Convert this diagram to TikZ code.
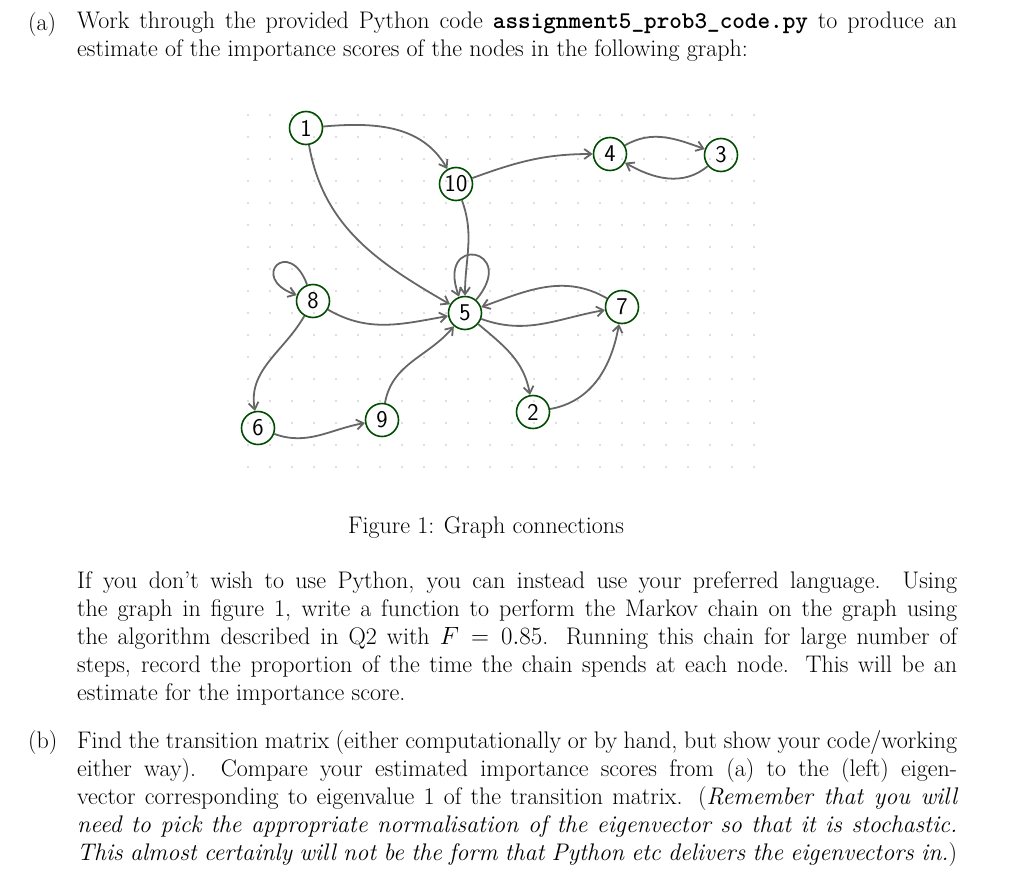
\documentclass[tikz,border=0pt]{standalone}
\usepackage{fontspec}
\usetikzlibrary{arrows.meta}
\begin{document}
\begin{tikzpicture}[x=1pt,y=-1pt,
  gn/.style={circle,draw=green!30!black,line width=1.6pt,minimum size=33pt,inner sep=0pt,font=\fontsize{24}{24}\selectfont\sffamily},
  ed/.style={draw=black!60,line width=1.8pt,-{Straight Barb[length=7pt,width=10pt]}},
  para/.style={anchor=north west,inner sep=0pt,text width=880pt,align=justify,font=\fontsize{24}{28}\selectfont}]
\useasboundingbox (0,0) rectangle (1024,883);
\foreach \i in {0,...,23}{\foreach \j in {0,...,16}{\fill[black!25] (248+\i*22,115+\j*22) circle (0.9pt);}}
\node[anchor=north west,inner sep=0pt,font=\fontsize{24}{28}\selectfont] (la) at (28,12) {(a)};
\node[para] (pa) at (77,12) {Work through the provided Python code \textbf{\texttt{assignment5\_prob3\_code.py}} to produce an\linebreak estimate of the importance scores of the nodes in the following graph:};
\node[gn] (n1) at (306,128) {1};
\node[gn] (n10) at (456,184) {10};
\node[gn] (n4) at (610,154) {4};
\node[gn] (n3) at (721,155) {3};
\node[gn] (n8) at (313,301) {8};
\node[gn] (n5) at (465,313) {5};
\node[gn] (n7) at (622,307) {7};
\node[gn] (n6) at (258,428) {6};
\node[gn] (n9) at (382,420) {9};
\node[gn] (n2) at (533,412) {2};
\draw[ed] (n1) to[out=5,in=120] (n10);
\draw[ed] (n1) to[out=-80,in=150] (n5);
\draw[ed] (n10) to[out=20,in=180] (n4);
\draw[ed] (n4) to[out=30,in=160] (n3);
\draw[ed] (n3) to[out=-140,in=-30] (n4);
\draw[ed] (n10) to[out=-70,in=90] (n5);
\draw[ed] (n8) to[out=110,in=160,looseness=9] (n8);
\draw[ed] (n5) to[out=50,in=110,looseness=10] (n5);
\draw[ed] (n8) to[out=-30,in=190] (n5);
\draw[ed] (n8) to[out=-120,in=100] (n6);
\draw[ed] (n6) to[out=-20,in=190] (n9);
\draw[ed] (n9) to[out=80,in=-130] (n5);
\draw[ed] (n5) to[out=-20,in=-170] (n7);
\draw[ed] (n7) to[out=150,in=20] (n5);
\draw[ed] (n5) to[out=-40,in=100] (n2);
\draw[ed] (n2) to[out=10,in=-100] (n7);
\node[font=\fontsize{24}{28}\selectfont] (cap) at (486,528) {Figure 1: Graph connections};
\node[para] (pb) at (77,571) {If you don't wish to use Python, you can instead use your preferred language. Using\linebreak the graph in figure 1, write a function to perform the Markov chain on the graph using\linebreak the algorithm described in Q2 with $F=0.85$. Running this chain for large number of\linebreak steps, record the proportion of the time the chain spends at each node. This will be an\linebreak estimate for the importance score.};
\node[anchor=north west,inner sep=0pt,font=\fontsize{24}{28}\selectfont] (lb) at (28,730) {(b)};
\node[para] (pc) at (77,730) {Find the transition matrix (either computationally or by hand, but show your code/working\linebreak either way). Compare your estimated importance scores from (a) to the (left) eigen-\linebreak vector corresponding to eigenvalue 1 of the transition matrix. (\textit{Remember that you will\linebreak need to pick the appropriate normalisation of the eigenvector so that it is stochastic.\linebreak This almost certainly will not be the form that Python etc delivers the eigenvectors in.})};
\end{tikzpicture}
\end{document}
